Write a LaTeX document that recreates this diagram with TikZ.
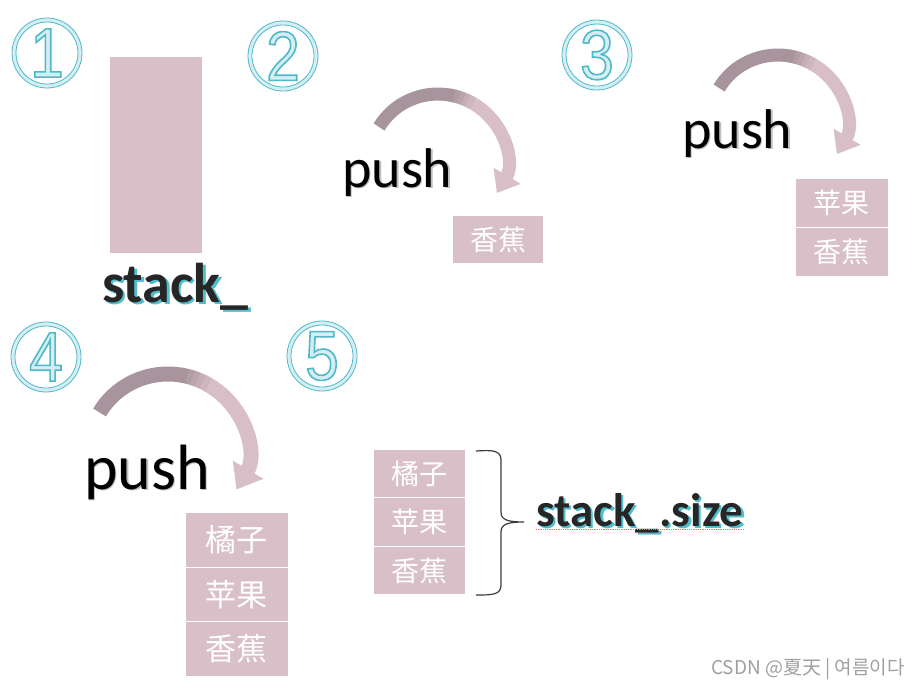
\documentclass[tikz,border=0pt]{standalone}
\usepackage{fontspec}
\setmainfont{Carlito}
\newfontfamily\cjkfont{Noto Sans CJK SC}
\newfontfamily\krfont{Noto Sans CJK KR}
\newfontfamily\numfont[FakeStretch=0.86]{Liberation Sans}
\usetikzlibrary{arrows.meta}
\definecolor{cellpink}{RGB}{217,192,200}
\definecolor{arcdark}{RGB}{168,148,156}
\definecolor{arclight}{RGB}{216,191,199}
\definecolor{ringteal}{RGB}{80,185,200}
\definecolor{numfill}{RGB}{212,238,243}
\definecolor{shadowteal}{RGB}{80,190,205}
\definecolor{inkblack}{RGB}{38,38,38}
\definecolor{markgray}{RGB}{160,160,160}
\definecolor{bracegray}{RGB}{60,60,60}
\tikzset{
  cell/.style={fill=cellpink, draw=white, line width=1pt, text=white, inner sep=0pt,
    font=\cjkfont\fontsize{28}{28}\selectfont},
  pushtxt/.style={anchor=base west, inner sep=0pt, text=black},
  boldtxt/.style={anchor=base west, inner sep=0pt, text=inkblack},
}
% one box: copy of #2 in colour #1 shifted by #3 (right) and #4 (down)
\newcommand\shifted[4]{\makebox[0pt][l]{\kern#3\raisebox{-#4}{\textcolor{#1}{#2}}}}
% filled light, stroked teal (text render mode 2)
\newcommand\outlined[1]{\textcolor{numfill}{\special{pdf:code q 2 Tr 1.6 w 0.314 0.725 0.784 RG}#1\special{pdf:code Q}}}
\newcommand\tealshadow[1]{\shifted{shadowteal}{#1}{2.5pt}{2.5pt}#1}
\newcommand\grayshadow[1]{\shifted{black!25}{#1}{1.5pt}{1.5pt}#1}
% #1 cx, #2 cy, #3 x radius, #4 y radius, #5 line width, #6 head width, #7 head length
\newcommand\pushArrow[7]{%
  \draw[line width=#5, arclight, -{Triangle[width=#6,length=#7]}]
    (#1,#2) ++(300:#3 and #4) arc[start angle=300, end angle=390, x radius=#3, y radius=#4];
  \foreach \aa [evaluate=\aa as \pp using {int(100-(\aa-280)*5)}] in {280,284,...,296} {
    \draw[line width=#5, arcdark!\pp!arclight]
      (#1,#2) ++(\aa:#3 and #4) arc[start angle=\aa, end angle=\aa+5, x radius=#3, y radius=#4];
  }
  \draw[line width=#5, arcdark]
    (#1,#2) ++(210:#3 and #4) arc[start angle=210, end angle=281, x radius=#3, y radius=#4];
}
% #1 x, #2 y, #3 digit, #4 name
\newcommand\circNum[4]{%
  \fill[numfill, even odd rule] (#1,#2) circle[radius=35] (#1,#2) circle[radius=31];
  \draw[ringteal, line width=0.8pt] (#1,#2) circle[radius=35] (#1,#2) circle[radius=31];
  \node[inner sep=0pt, font=\numfont\fontsize{70}{70}\selectfont] (#4) at (#1,#2) {\outlined{#3}};
}
\begin{document}
\begin{tikzpicture}[x=1pt, y=-1pt]
\useasboundingbox (0,0) rectangle (921,689);
\fill[white] (0,0) rectangle (921,689);

% circled numbers
\circNum{47}{53}{1}{n1}
\circNum{283}{56}{2}{n2}
\circNum{597}{55}{3}{n3}
\circNum{46}{357}{4}{n4}
\circNum{322}{356}{5}{n5}

% step 1
\node[fill=cellpink, inner sep=0pt, minimum width=92pt, minimum height=196pt] (stackbox) at (156,155) {};
\node[boldtxt, font=\bfseries\fontsize{56}{56}\selectfont] (stacklbl) at (102,302) {\tealshadow{stack\_}};

% step 2
\pushArrow{438}{160}{68}{66}{13pt}{30pt}{20pt}
\node[pushtxt, font=\fontsize{56}{56}\selectfont] (push2) at (342,187) {\grayshadow{push}};
\node[cell, minimum width=91pt, minimum height=48pt] (b2) at (498,239.5) {香蕉};

% step 3
\pushArrow{778}{121}{68}{66}{13pt}{30pt}{20pt}
\node[pushtxt, font=\fontsize{56}{56}\selectfont] (push3) at (682,148) {\grayshadow{push}};
\node[cell, minimum width=93pt, minimum height=49pt] (a3) at (841.5,202.5) {苹果};
\node[cell, minimum width=93pt, minimum height=49pt] (b3) at (841.5,251.5) {香蕉};

% step 4
\pushArrow{168}{451}{79}{77}{15pt}{34pt}{23pt}
\node[pushtxt, font=\fontsize{64}{64}\selectfont] (push4) at (84,489) {\grayshadow{push}};
\node[cell, font=\cjkfont\fontsize{31}{31}\selectfont, minimum width=103pt, minimum height=55pt] (o4) at (236.5,539.5) {橘子};
\node[cell, font=\cjkfont\fontsize{31}{31}\selectfont, minimum width=103pt, minimum height=55pt] (a4) at (236.5,594.5) {苹果};
\node[cell, font=\cjkfont\fontsize{31}{31}\selectfont, minimum width=103pt, minimum height=55pt] (b4) at (236.5,649) {香蕉};

% step 5
\node[cell, minimum width=92pt, minimum height=48.5pt] (o5) at (419,473.5) {橘子};
\node[cell, minimum width=92pt, minimum height=48.5pt] (a5) at (419,522) {苹果};
\node[cell, minimum width=92pt, minimum height=48.5pt] (b5) at (419,570.5) {香蕉};
\draw[bracegray, line width=1.2pt]
  (476,451) .. controls (492,450) and (501,450) .. (501,460) -- (501,512)
  .. controls (501,520) and (508,522) .. (524,522)
  .. controls (508,522) and (501,524) .. (501,532) -- (501,585)
  .. controls (501,595) and (492,595) .. (476,595);
\node[boldtxt, font=\bfseries\fontsize{47}{47}\selectfont] (size) at (536,526) {\tealshadow{stack\_.size}};
\draw[red!55, densely dotted, line width=0.8pt] ([yshift=-3.5pt]size.base west) -- ([yshift=-3.5pt]size.base east);

% watermark
\node[anchor=base east, inner sep=0pt, text=markgray, font=\krfont\fontsize{19}{19}\selectfont] (mark) at (905,674) {CSDN @夏天 | 여름이다};
\end{tikzpicture}
\end{document}
